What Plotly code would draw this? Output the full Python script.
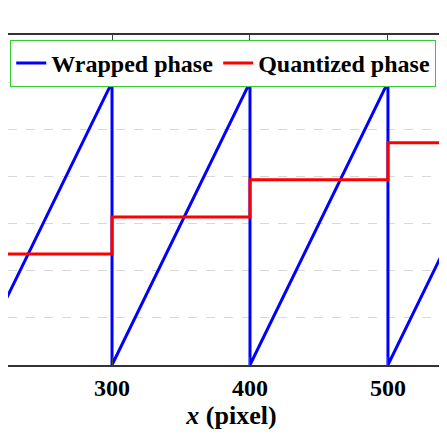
import plotly.graph_objects as go

# sawtooth wrapped phase and stepped quantized phase
wrapped_x = [200, 300, 300, 400, 400, 500, 500, 600]
wrapped_y = [0, 6, 0, 6, 0, 6, 0, 6]
quant_x = [200, 300, 300, 400, 400, 500, 500, 600]
quant_y = [2.356, 2.356, 3.142, 3.142, 3.927, 3.927, 4.712, 4.712]
x_ticks = [300, 400, 500]

fig = go.Figure()
fig.add_trace(go.Scatter(x=wrapped_x, y=wrapped_y, mode="lines",
                         line=dict(color="#0000ff", width=3), name="<b>Wrapped phase</b>"))
fig.add_trace(go.Scatter(x=quant_x, y=quant_y, mode="lines",
                         line=dict(color="#ff0000", width=3), name="<b>Quantized phase</b>"))

fig.update_layout(
    width=447, height=447,
    margin=dict(l=0, r=0, t=27, b=90, autoexpand=False),
    plot_bgcolor="white", paper_bgcolor="white",
    font=dict(family="Liberation Serif", size=24, color="black"),
    legend=dict(orientation="h", x=0.005, y=0.985, xanchor="left", yanchor="top",
                bordercolor="#33cc33", borderwidth=1, bgcolor="white",
                font=dict(size=24, family="Liberation Serif"),
                itemwidth=30, tracegroupgap=0),
    xaxis=dict(range=[224.6, 548.6], tickvals=x_ticks, automargin=False,
               ticktext=["<b>%d</b>" % t for t in x_ticks],
               ticks="inside", ticklen=8, showgrid=False,
               showline=True, linecolor="#333", linewidth=2, mirror="ticks",
               title=dict(text="<b><i>x</i> (pixel)</b>", standoff=2,
                          font=dict(size=26))),
    yaxis=dict(range=[0, 7], dtick=1, showticklabels=False, ticks="",
               showgrid=True, gridcolor="#d8d8d8", griddash="dash", automargin=False,
               zeroline=False, showline=False),
)
fig.write_html("out.html")
